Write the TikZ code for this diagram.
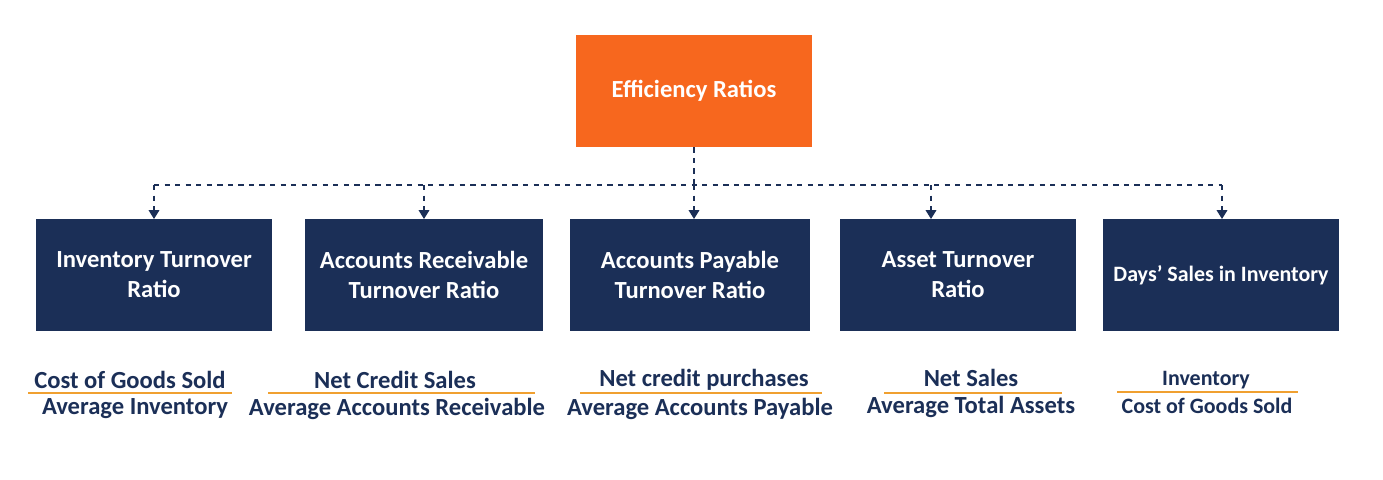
\documentclass[tikz,border=0pt]{standalone}
\usepackage{fontspec}
\setmainfont{Carlito}
\usetikzlibrary{arrows.meta}
\definecolor{navy}{HTML}{1B2F57}
\definecolor{orng}{HTML}{F7671E}
\definecolor{gold}{HTML}{F0A030}
\definecolor{txt}{HTML}{1B2F57}
\begin{document}
\begin{tikzpicture}[x=0.02cm,y=-0.02cm,
  top/.style={fill=orng,text=white,font=\bfseries\fontsize{14}{16}\selectfont,minimum width=4.72cm,minimum height=2.24cm,inner sep=0},
  ratio/.style={fill=navy,text=white,font=\bfseries\fontsize{14}{17}\selectfont,align=center,minimum height=2.24cm,inner sep=0},
  conn/.style={draw=navy,dashed,thick,-{Triangle[length=5pt,width=6pt]}},
  frac/.style={text=txt,font=\bfseries\fontsize{14}{16}\selectfont,inner sep=0},
  fline/.style={draw=gold,thick}]
\useasboundingbox (0,0) rectangle (1383,480);
\node[top] (er) at (694,91) {Efficiency Ratios};
\node[ratio,minimum width=4.72cm] (b1) at (154,275) {Inventory Turnover\\Ratio};
\node[ratio,minimum width=4.76cm] (b2) at (424,275) {Accounts Receivable\\Turnover Ratio};
\node[ratio,minimum width=4.80cm] (b3) at (690,275) {Accounts Payable\\Turnover Ratio};
\node[ratio,minimum width=4.74cm] (b4) at (958,275) {Asset Turnover\\Ratio};
\node[ratio,minimum width=4.74cm,font=\bfseries\fontsize{12.5}{15}\selectfont] (b5) at (1221,275) {Days’ Sales in Inventory};
\coordinate (j) at (694,185);
\draw[navy,dashed,thick] (er.south) -- (j);
\draw[navy,dashed,thick] (154,185) -- (1222,185);
\foreach \b/\x in {b1/154,b2/424,b3/694,b4/931,b5/1222}{
  \draw[conn] (\x,185) -- (\x,219);
}
% formulas
\node[frac] (n1) at (130,380) {Cost of Goods Sold};
\node[frac] (d1) at (135,409) {Average Inventory};
\draw[fline] (28,393) -- (232,393);
\node[frac] (n2) at (395,380) {Net Credit Sales};
\node[frac] (d2) at (397,409) {Average Accounts Receivable};
\draw[fline] (268,393) -- (535,393);
\node[frac] (n3) at (704,380) {Net credit purchases};
\draw[fline] (580,393) -- (822,393);
\node[frac] (d3) at (700,409) {Average Accounts Payable};
\node[frac] (n4) at (971,378) {Net Sales};
\draw[fline] (884,393) -- (1062,393);
\node[frac] (d4) at (971,407) {Average Total Assets};
\node[frac,font=\bfseries\fontsize{12.5}{15}\selectfont] (n5) at (1206,380) {Inventory};
\draw[fline] (1117,392) -- (1298,392);
\node[frac,font=\bfseries\fontsize{12.5}{15}\selectfont] (d5) at (1207,406) {Cost of Goods Sold};
\end{tikzpicture}
\end{document}
